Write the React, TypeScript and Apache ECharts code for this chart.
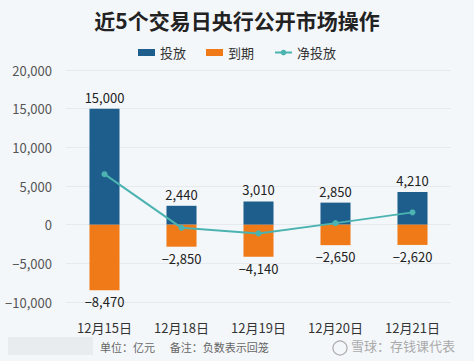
import React, { useEffect, useRef } from "react";
import * as echarts from "echarts";

const categories = ["12月15日", "12月18日", "12月19日", "12月20日", "12月21日"];
const injection = [15000, 2440, 3010, 2850, 4210];
const maturity = [-8470, -2850, -4140, -2650, -2620];
const netInjection = [6530, -410, -1130, 200, 1590];

const FONT = "'Noto Sans CJK SC', 'Noto Sans', sans-serif";
const fmt = (v: number) => (v < 0 ? "−" : "") + Math.abs(v).toLocaleString("en-US");

export default function App() {
  const ref = useRef<HTMLDivElement>(null);
  useEffect(() => {
    const chart = echarts.init(ref.current!, null, { renderer: "svg" });
    chart.setOption({
      animation: false,
      backgroundColor: "#f4f7fa",
      textStyle: { fontFamily: FONT },
      title: {
        text: "近5个交易日央行公开市场操作",
        left: "center",
        top: 4,
        textStyle: { fontSize: 21, fontWeight: "bold", color: "#222", fontFamily: FONT },
      },
      legend: {
        top: 41,
        left: "center",
        itemWidth: 17,
        itemHeight: 7,
        itemGap: 20,
        textStyle: { fontSize: 13, color: "#333", fontFamily: FONT },
        data: [
          { name: "投放", icon: "rect" },
          { name: "到期", icon: "rect" },
          { name: "净投放" },
        ],
      },
      grid: { left: 66, right: 23, top: 70, bottom: 59 },
      xAxis: {
        type: "category",
        data: categories,
        axisLine: { show: false },
        axisTick: { show: false },
        axisLabel: { fontSize: 13, color: "#333", margin: 19, fontFamily: FONT },
      },
      yAxis: {
        type: "value",
        min: -10000,
        max: 20000,
        interval: 5000,
        axisLabel: {
          fontSize: 13,
          color: "#555",
          margin: 14,
          formatter: (v: number) => fmt(v),
        },
        splitLine: { lineStyle: { color: "#e6e9ed" } },
      },
      series: [
        {
          name: "投放",
          type: "bar",
          stack: "s",
          barWidth: "39%",
          data: injection,
          itemStyle: { color: "#1d5e8c" },
          label: {
            show: true,
            position: "top",
            fontSize: 13,
            color: "#222",
            formatter: (p: any) => fmt(p.value),
          },
        },
        {
          name: "到期",
          type: "bar",
          stack: "s",
          barWidth: "39%",
          data: maturity,
          itemStyle: { color: "#f07a17" },
          label: {
            show: true,
            position: "bottom",
            fontSize: 13,
            color: "#222",
            formatter: (p: any) => fmt(p.value),
          },
        },
        {
          name: "净投放",
          type: "line",
          data: netInjection,
          symbol: "circle",
          symbolSize: 6,
          lineStyle: { color: "#4bb3b0", width: 2 },
          itemStyle: { color: "#4bb3b0" },
          z: 5,
        },
      ],
      graphic: [
        {
          type: "rect",
          left: 8,
          top: 337,
          shape: { width: 85, height: 18 },
          style: { fill: "#e9ecef" },
        },
        {
          type: "text",
          left: 100,
          top: 341,
          style: {
            text: "单位：亿元      备注：负数表示回笼",
            fontSize: 11,
            fill: "#666",
            fontFamily: FONT,
          },
        },
        {
          type: "circle",
          shape: { cx: 340, cy: 348, r: 7 },
          style: { fill: "none", stroke: "#aaa", lineWidth: 1.2 },
        },
        {
          type: "text",
          left: 351,
          top: 339,
          style: {
            text: "雪球：存钱课代表",
            fontSize: 13,
            fill: "#aaa",
            fontFamily: FONT,
          },
        },
      ],
    });
    return () => chart.dispose();
  }, []);
  return <div ref={ref} style={{ width: 474, height: 361, position: "absolute", left: 0, top: 0 }} />;
}
